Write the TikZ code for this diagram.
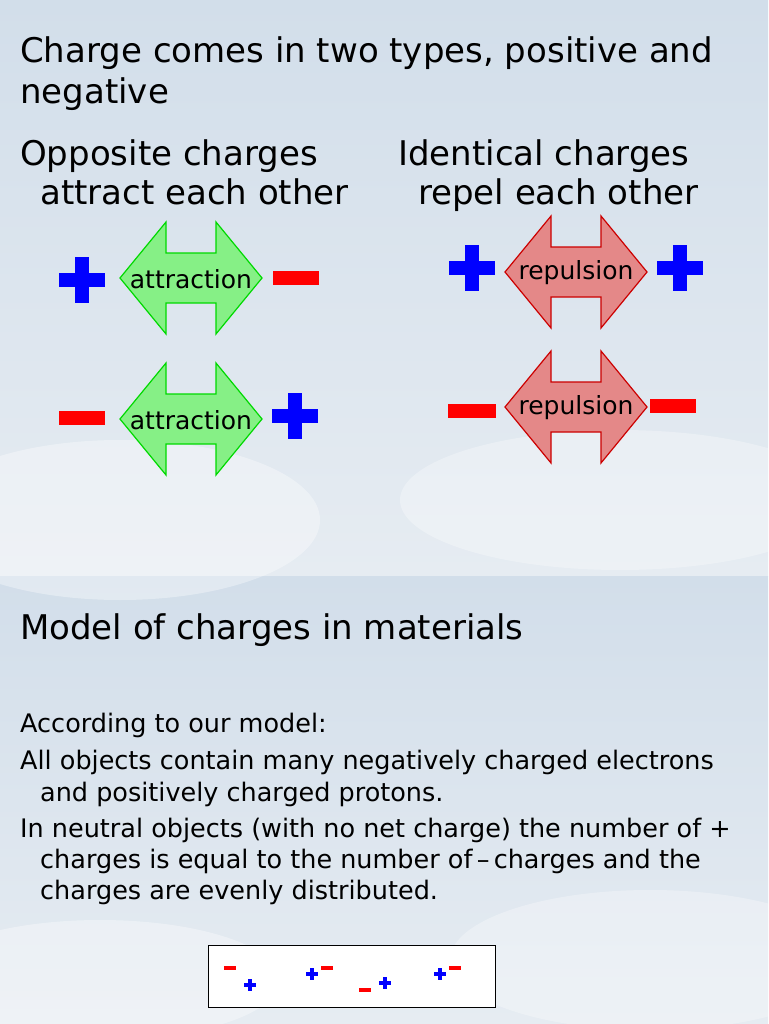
\documentclass[tikz,border=0pt]{standalone}
\usepackage{fontspec}
\setmainfont{DejaVu Sans}
\definecolor{skyA}{HTML}{D2DEEA}
\definecolor{skyB}{HTML}{E6ECF2}
\definecolor{gfill}{HTML}{86F086}
\definecolor{rfill}{HTML}{E48888}
\begin{document}
\begin{tikzpicture}[x=1pt,y=-1pt,
 big/.style={anchor=base west,inner sep=0pt,font=\fontsize{34}{40}\selectfont},
 body/.style={anchor=base west,inner sep=0pt,font=\fontsize{25.5}{30}\selectfont},
 lab/.style={inner sep=0pt,font=\fontsize{25}{28}\selectfont},
 attr/.style={draw=green!85!black,fill=gfill,line width=1.2pt},
 rep/.style={draw=red!80!black,fill=rfill,line width=1.2pt}]
\useasboundingbox (0,0) rectangle (768,1024);
\fill[top color=skyA,bottom color=skyB] (0,0) rectangle (768,576);
\fill[top color=skyA,bottom color=skyB] (0,576) rectangle (768,1024);
\fill[white,opacity=0.35] (120,520) ellipse (200 and 80);
\fill[white,opacity=0.3] (620,500) ellipse (220 and 70);
\fill[white,opacity=0.35] (100,980) ellipse (180 and 60);
\fill[white,opacity=0.3] (650,960) ellipse (200 and 70);
\newcommand\dbl[3]{\draw[#3] (#1-71,#2) -- ++(46,-56) -- ++(0,31) -- ++(50,0) -- ++(0,-31) -- ++(46,56) -- ++(-46,56) -- ++(0,-31) -- ++(-50,0) -- ++(0,31) -- cycle;}
\newcommand\pl[3]{\fill[blue] (#1-#3,#2-0.3*#3) rectangle (#1+#3,#2+0.3*#3); \fill[blue] (#1-0.3*#3,#2-#3) rectangle (#1+0.3*#3,#2+#3);}
\newcommand\mi[4]{\fill[red] (#1-#3,#2-#4) rectangle (#1+#3,#2+#4);}
\node[big] (t1) at (20,63) {Charge comes in two types, positive and};
\node[big] (t2) at (20,104) {negative};
\node[big] (o1) at (20,166) {Opposite charges};
\node[big] (o2) at (40,205) {attract each other};
\node[big] (i1) at (398,166) {Identical charges};
\node[big] (i2) at (418,205) {repel each other};
\dbl{191}{278}{attr} \node[lab] (a1) at (191,279) {attraction};
\dbl{191}{419}{attr} \node[lab] (a2) at (191,420) {attraction};
\dbl{576}{272}{rep} \node[lab] (r1) at (576,273) {repulsion};
\dbl{576}{407}{rep} \node[lab] (r2) at (576,408) {repulsion};
\pl{82}{280}{23} \mi{296}{278}{23}{7}
\mi{82}{418}{23}{7} \pl{295}{416}{23}
\pl{472}{268}{23} \pl{680}{268}{23}
\mi{472}{411}{24}{7} \mi{673}{406}{23}{7}
\node[big] (m) at (20,639) {Model of charges in materials};
\node[body] (b1) at (20,732) {According to our model:};
\node[body] (b2) at (20,769) {All objects contain many negatively charged electrons};
\node[body] (b3) at (40,801) {and positively charged protons.};
\node[body] (b4) at (20,837) {In neutral objects (with no net charge) the number of +};
\node[body] (b5) at (40,868) {charges is equal to the number of\,–\,charges and the};
\node[body] (b6) at (40,899) {charges are evenly distributed.};
\draw[fill=white,line width=1pt] (208,945) rectangle (495,1007);
\mi{230}{968}{6}{2} \pl{250}{985}{6}
\pl{312}{974}{6} \mi{327}{968}{6}{2}
\mi{365}{990}{6}{2} \pl{385}{983}{6}
\pl{440}{974}{6} \mi{455}{968}{6}{2}
\end{tikzpicture}
\end{document}
